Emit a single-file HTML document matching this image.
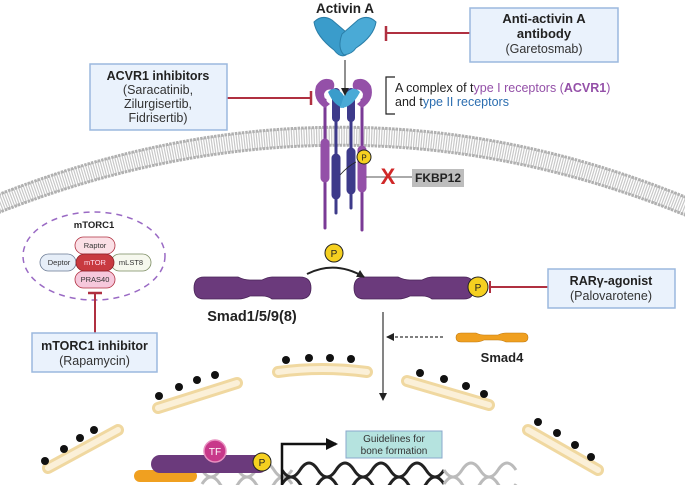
<!DOCTYPE html>
<html><head><meta charset="utf-8"><style>
body{margin:0;background:#fff}
svg{display:block;font-family:"Liberation Sans",sans-serif}
</style></head><body>
<svg width="685" height="485" viewBox="0 0 685 485" xmlns="http://www.w3.org/2000/svg">
<defs>
<marker id="ah" markerWidth="9" markerHeight="9" refX="7" refY="4" orient="auto" markerUnits="userSpaceOnUse"><path d="M0,0 L8,4 L0,8 z" fill="#222"/></marker>
<marker id="ah2" markerWidth="14" markerHeight="14" refX="10" refY="6" orient="auto" markerUnits="userSpaceOnUse"><path d="M0,0 L12,6 L0,12 z" fill="#111"/></marker>
</defs>
<!-- membrane -->
<path d="M-5,205 Q345,66 690,208" fill="none" stroke="#c8c8c8" stroke-width="18" stroke-dasharray="1.2 1.3"/>
<path d="M-5,196 Q345,57 690,199" fill="none" stroke="#b0b0b0" stroke-width="3" stroke-dasharray="2.5 1"/>
<path d="M-5,214 Q345,75 690,217" fill="none" stroke="#b0b0b0" stroke-width="3" stroke-dasharray="2.5 1"/>

<!-- Activin A -->
<text x="345" y="13" text-anchor="middle" font-size="13.5" font-weight="bold" fill="#222">Activin A</text>
<path d="M314,22 Q322,14 332,20 L346,32 L346,55 Q340,58 334,50 Q316,36 314,22z" fill="#3a9ccb" stroke="#2a7ea8" stroke-width="1"/>
<path d="M376,22 Q368,14 358,20 L342,34 Q337,48 344,55 Q352,54 356,48 Q374,36 376,22z" fill="#4aaad6" stroke="#2a7ea8" stroke-width="1"/>

<!-- Anti-activin box -->
<line x1="470" y1="33" x2="386" y2="33" stroke="#b03040" stroke-width="2"/>
<line x1="386" y1="26" x2="386" y2="41" stroke="#b03040" stroke-width="2.5"/>
<rect x="470" y="8" width="148" height="54" fill="#eaf2fc" stroke="#9bb8de" stroke-width="1.5"/>
<text x="544" y="23" text-anchor="middle" font-size="13" font-weight="bold" fill="#222">Anti-activin A</text>
<text x="544" y="38" text-anchor="middle" font-size="13" font-weight="bold" fill="#222">antibody</text>
<text x="544" y="53" text-anchor="middle" font-size="12.5" fill="#333">(Garetosmab)</text>

<!-- ACVR1 box -->
<line x1="227" y1="98" x2="311" y2="98" stroke="#b03040" stroke-width="2"/>
<line x1="311" y1="91" x2="311" y2="105" stroke="#b03040" stroke-width="2.5"/>
<rect x="90" y="64" width="137" height="66" fill="#eaf2fc" stroke="#9bb8de" stroke-width="1.5"/>
<text x="158" y="80" text-anchor="middle" font-size="12.5" font-weight="bold" fill="#222">ACVR1 inhibitors</text>
<text x="158" y="94" text-anchor="middle" font-size="12.5" fill="#333">(Saracatinib,</text>
<text x="158" y="108" text-anchor="middle" font-size="12.5" fill="#333">Zilurgisertib,</text>
<text x="158" y="122" text-anchor="middle" font-size="12.5" fill="#333">Fidrisertib)</text>

<!-- receptors -->
<g stroke-linecap="round">
<line x1="325" y1="100" x2="325" y2="228" stroke="#7a3a96" stroke-width="3"/>
<line x1="362" y1="100" x2="362" y2="230" stroke="#7a3a96" stroke-width="3"/>
<line x1="336" y1="100" x2="336" y2="213" stroke="#3d3a8a" stroke-width="3"/>
<line x1="351" y1="100" x2="351" y2="208" stroke="#3d3a8a" stroke-width="3"/>
<line x1="325" y1="143" x2="325" y2="178" stroke="#9450a8" stroke-width="9"/>
<line x1="336" y1="158" x2="336" y2="195" stroke="#3d3a8a" stroke-width="9"/>
<line x1="351" y1="152" x2="351" y2="190" stroke="#3d3a8a" stroke-width="9"/>
<line x1="362" y1="150" x2="362" y2="188" stroke="#9450a8" stroke-width="9"/>
<line x1="336" y1="92" x2="336" y2="118" stroke="#3d3a8a" stroke-width="8"/>
<line x1="351" y1="92" x2="351" y2="118" stroke="#3d3a8a" stroke-width="8"/>
</g>
<path d="M325,108 Q312,100 316,86 Q322,76 332,80 Q336,84 333,90 Q326,88 324,94 Q324,100 330,104z" fill="#9450a8"/>
<path d="M362,108 Q375,100 371,86 Q365,76 355,80 Q351,84 354,90 Q361,88 363,94 Q363,100 357,104z" fill="#9450a8"/>
<path d="M328,92 Q336,84 344,96 L344,108 Q334,106 328,92z" fill="#3a9ccb"/>
<path d="M360,92 Q352,84 344,96 L340,108 Q352,108 360,92z" fill="#4aaad6"/>
<line x1="345" y1="60" x2="345" y2="95" stroke="#222" stroke-width="1" marker-end="url(#ah)"/>
<path d="M340,175 Q348,166 356,162" fill="none" stroke="#222" stroke-width="0.8"/>
<circle cx="364" cy="157" r="7" fill="#f5d020" stroke="#222" stroke-width="1"/>
<text x="364" y="160.5" text-anchor="middle" font-size="8" fill="#222">P</text>
<line x1="366" y1="177" x2="412" y2="177" stroke="#555" stroke-width="1"/>
<text x="388" y="184" text-anchor="middle" font-size="22" font-weight="bold" fill="#d02828">X</text>
<rect x="412" y="169" width="52" height="18" fill="#bdbdbd"/>
<text x="438" y="182" text-anchor="middle" font-size="12" font-weight="bold" fill="#222">FKBP12</text>

<!-- bracket -->
<path d="M395,77 L386,77 L386,114 L395,114" fill="none" stroke="#222" stroke-width="1.2"/>
<text x="395" y="92" font-size="12.5" fill="#222">A complex of t<tspan fill="#9450a8">ype I receptors (</tspan><tspan fill="#9450a8" font-weight="bold">ACVR1</tspan><tspan fill="#9450a8">)</tspan></text>
<text x="395" y="106" font-size="12.5" fill="#222">and t<tspan fill="#2c6eb0">ype II receptors</tspan></text>

<!-- mTORC1 -->
<ellipse cx="94" cy="256" rx="71" ry="44" fill="none" stroke="#9a6ac4" stroke-width="1.5" stroke-dasharray="6 5"/>
<text x="94" y="228" text-anchor="middle" font-size="9.5" font-weight="bold" fill="#222">mTORC1</text>
<rect x="40" y="254" width="36" height="17" rx="8.5" fill="#e6eef8" stroke="#6a7a94" stroke-width="0.8"/>
<text x="59" y="265" text-anchor="middle" font-size="7.5" fill="#333">Deptor</text>
<rect x="111" y="254" width="40" height="17" rx="8.5" fill="#f6f8ee" stroke="#7a8a60" stroke-width="0.8"/>
<text x="131" y="265" text-anchor="middle" font-size="7.5" fill="#333">mLST8</text>
<rect x="75" y="237" width="40" height="17" rx="8.5" fill="#fbe0e6" stroke="#b03040" stroke-width="0.8"/>
<text x="95" y="248" text-anchor="middle" font-size="7.5" fill="#333">Raptor</text>
<rect x="75" y="271" width="40" height="17" rx="8.5" fill="#f6c8dc" stroke="#b03040" stroke-width="0.8"/>
<text x="95" y="282" text-anchor="middle" font-size="7.5" fill="#333">PRAS40</text>
<rect x="76" y="254" width="38" height="17" rx="8.5" fill="#c83a40" stroke="#8a2028" stroke-width="0.8"/>
<text x="95" y="265" text-anchor="middle" font-size="7.5" fill="#fde">mTOR</text>
<line x1="95" y1="293" x2="95" y2="333" stroke="#b03040" stroke-width="2"/>
<line x1="88" y1="293" x2="102" y2="293" stroke="#b03040" stroke-width="2.5"/>
<rect x="32" y="333" width="125" height="39" fill="#eaf2fc" stroke="#9bb8de" stroke-width="1.5"/>
<text x="94.5" y="350" text-anchor="middle" font-size="12.5" font-weight="bold" fill="#222">mTORC1 inhibitor</text>
<text x="94.5" y="365" text-anchor="middle" font-size="12.5" fill="#333">(Rapamycin)</text>

<!-- Smads -->
<g fill="#6b3a7c" stroke="#4a2558" stroke-width="0.8">
<path d="M204,277 L238,277 Q244,280 250,280 L262,280 Q268,277 272,277 L300,277 Q311,277 311,288 Q311,299 300,299 L272,299 Q268,296 262,296 L250,296 Q244,299 238,299 L204,299 Q194,299 194,288 Q194,277 204,277z"/>
<path d="M364,277 L398,277 Q404,280 410,280 L422,280 Q428,277 432,277 L464,277 Q474,277 474,288 Q474,299 464,299 L432,299 Q428,296 422,296 L410,296 Q404,299 398,299 L364,299 Q354,299 354,288 Q354,277 364,277z"/>
</g>
<text x="252" y="321" text-anchor="middle" font-size="14.5" font-weight="bold" fill="#222">Smad1/5/9(8)</text>
<path d="M307,274 Q335,260 364,277" fill="none" stroke="#222" stroke-width="2" marker-end="url(#ah)"/>
<circle cx="334" cy="253" r="9" fill="#f5d020" stroke="#222" stroke-width="1"/>
<text x="334" y="257" text-anchor="middle" font-size="10" fill="#222">P</text>
<circle cx="478" cy="287" r="10" fill="#f5d020" stroke="#222" stroke-width="1"/>
<text x="478" y="291" text-anchor="middle" font-size="10" fill="#222">P</text>
<line x1="548" y1="287" x2="490" y2="287" stroke="#b03040" stroke-width="2"/>
<line x1="490" y1="281" x2="490" y2="293" stroke="#b03040" stroke-width="2"/>
<rect x="548" y="269" width="127" height="39" fill="#eaf2fc" stroke="#9bb8de" stroke-width="1.5"/>
<text x="611" y="285" text-anchor="middle" font-size="12.5" font-weight="bold" fill="#222">RARγ-agonist</text>
<text x="611" y="300" text-anchor="middle" font-size="12.5" fill="#333">(Palovarotene)</text>

<line x1="383" y1="312" x2="383" y2="400" stroke="#333" stroke-width="1.2" marker-end="url(#ah)"/>
<line x1="443" y1="337" x2="387" y2="337" stroke="#333" stroke-width="1.2" stroke-dasharray="3 2" marker-end="url(#ah)"/>
<path d="M461,333 L476,333 Q480,335 484,335 L498,335 Q502,333 506,333 L523,333 Q528,333 528,337.5 Q528,342 523,342 L506,342 Q502,340 498,340 L484,340 Q480,342 476,342 L461,342 Q456,342 456,337.5 Q456,333 461,333z" fill="#f0a020" stroke="#c07a10" stroke-width="0.6"/>
<text x="502" y="362" text-anchor="middle" font-size="13" font-weight="bold" fill="#222">Smad4</text>

<!-- nuclear envelope -->
<g stroke="#f0d8a0" stroke-width="12" stroke-linecap="round" fill="none">
<path d="M278,372 Q322,366 367,372"/>
<line x1="158" y1="408" x2="237" y2="383"/>
<line x1="407" y1="381" x2="489" y2="405"/>
<line x1="48" y1="468" x2="118" y2="430"/>
<line x1="528" y1="430" x2="598" y2="470"/>
</g>
<g stroke="#fbf0d8" stroke-width="6" stroke-linecap="round" fill="none">
<path d="M278,372 Q322,366 367,372"/>
<line x1="158" y1="408" x2="237" y2="383"/>
<line x1="407" y1="381" x2="489" y2="405"/>
<line x1="48" y1="468" x2="118" y2="430"/>
<line x1="528" y1="430" x2="598" y2="470"/>
</g>
<g fill="#111">
<circle cx="286" cy="360" r="4"/><circle cx="309" cy="358" r="4"/><circle cx="330" cy="358" r="4"/><circle cx="351" cy="359" r="4"/>
<circle cx="159" cy="396" r="4"/><circle cx="179" cy="387" r="4"/><circle cx="197" cy="380" r="4"/><circle cx="215" cy="375" r="4"/>
<circle cx="420" cy="373" r="4"/><circle cx="444" cy="379" r="4"/><circle cx="466" cy="386" r="4"/><circle cx="484" cy="394" r="4"/>
<circle cx="45" cy="461" r="4"/><circle cx="64" cy="449" r="4"/><circle cx="80" cy="438" r="4"/><circle cx="94" cy="430" r="4"/>
<circle cx="538" cy="422" r="4"/><circle cx="557" cy="433" r="4"/><circle cx="575" cy="445" r="4"/><circle cx="591" cy="457" r="4"/>
</g>

<!-- DNA -->
<g fill="none" stroke-width="3">
<path d="M202,470 q9,14 18,0 t18,0 t18,0 t18,0 t18,0" stroke="#bbb"/>
<path d="M202,484 q9,-14 18,0 t18,0 t18,0 t18,0 t18,0" stroke="#bbb"/>
<path d="M282,470 q9,14 18,0 t18,0 t18,0 t18,0 t18,0 t18,0 t18,0 t18,0 t18,0" stroke="#222"/>
<path d="M282,484 q9,-14 18,0 t18,0 t18,0 t18,0 t18,0 t18,0 t18,0 t18,0 t18,0" stroke="#222"/>
<path d="M444,470 q9,14 18,0 t18,0 t18,0 t18,0" stroke="#bbb"/>
<path d="M444,484 q9,-14 18,0 t18,0 t18,0 t18,0" stroke="#bbb"/>
</g>
<rect x="134" y="470" width="63" height="12" rx="6" fill="#f0a020"/>
<rect x="151" y="455" width="117" height="18" rx="9" fill="#6b3a7c"/>
<circle cx="215" cy="451" r="11" fill="#c8388a" stroke="#e890c0" stroke-width="1.5"/>
<text x="215" y="455" text-anchor="middle" font-size="10" fill="#fff">TF</text>
<circle cx="262" cy="462" r="9" fill="#f5d020" stroke="#222" stroke-width="1"/>
<text x="262" y="466" text-anchor="middle" font-size="10" fill="#222">P</text>
<path d="M282,485 L282,444 L336,444" fill="none" stroke="#111" stroke-width="2.5" marker-end="url(#ah2)"/>
<rect x="346" y="431" width="96" height="27" fill="#b5e3df" stroke="#8aa8cc" stroke-width="1"/>
<text x="394" y="442" text-anchor="middle" font-size="10" fill="#333">Guidelines for</text>
<text x="394" y="454" text-anchor="middle" font-size="10" fill="#333">bone formation</text>
</svg>
</body></html>
